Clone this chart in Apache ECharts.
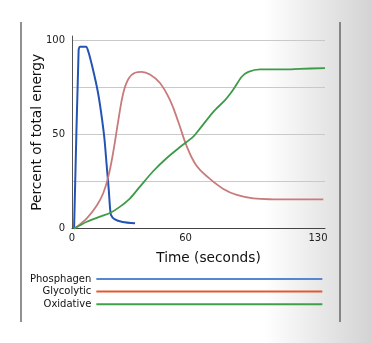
<!DOCTYPE html>
<html><head><meta charset="utf-8">
<script src="https://cdn.jsdelivr.net/npm/echarts@6/dist/echarts.min.js"></script>
<style>html,body{margin:0;padding:0;background:#fff;} #c{width:372px;height:343px;}</style>
</head><body><div id="c"></div>
<script>
const seriesNames = ['Phosphagen', 'Glycolytic', 'Oxidative'];
const xTickLabels = [0, 60, 130];
const yTickLabels = [0, 50, 100];
const yGridValues = [0, 25, 50, 75, 100];
// [seconds, percent]
const phosphagen = [[1.1,0],[3.5,94.8],[4.2,96.5],[7.4,96.5],[8.7,93.7],[10.9,85.2],[13.6,72.9],[15.3,62.2],[17.1,48.1],[18.3,33.9],[19.4,21.0],[20.1,11.0],[20.6,7.3],[22.4,5.1],[26.8,3.6],[33.3,2.9]];
const glycolytic = [[1.1,0],[7.8,5.5],[13.1,12.3],[16.5,18.8],[19.2,27.6],[21.8,40.7],[24.5,57.6],[27.1,72.0],[29.8,79.4],[33.3,82.7],[36.8,83.2],[41.2,81.8],[46.5,77.3],[51.8,68.2],[56.2,56.6],[60.6,43.8],[65.9,33.2],[72.9,26.4],[80.0,21.1],[87.1,17.9],[95.8,16.1],[106.4,15.6],[120.5,15.5],[132.8,15.6]];
const oxidative = [[1.1,0],[7.8,3.7],[14.8,6.4],[20.1,8.3],[25.4,11.7],[30.7,16.1],[35.9,22.3],[43.0,30.6],[50.1,37.5],[57.1,43.3],[64.1,48.8],[67.7,53.2],[74.7,62.0],[80.9,68.2],[83.5,71.4],[86.2,75.3],[89.7,80.6],[93.2,83.2],[99.4,84.5],[111.7,84.5],[120.5,84.8],[133.7,85.2]];
const lineColors = ['#2354b4', '#c97b7b', '#3f9a48'];
const legendColors = ['#5686d2', '#e05a30', '#40a04a'];

const chart = echarts.init(document.getElementById('c'), null, {renderer: 'canvas'});
const font = 'DejaVu Sans';
chart.setOption({
  animation: false,
  backgroundColor: new echarts.graphic.LinearGradient(0, 0, 1, 0, [
    {offset: 0, color: '#ffffff'}, {offset: 0.71, color: '#ffffff'}, {offset: 1, color: '#d3d3d3'}
  ]),
  textStyle: {fontFamily: font},
  grid: {left: 72, right: 47, top: 36, bottom: 114.3, containLabel: false},
  xAxis: {
    type: 'value', min: 0, max: 133.7,
    name: 'Time (seconds)', nameLocation: 'middle', nameGap: 23,
    nameTextStyle: {fontFamily: font, fontSize: 13.7, color: '#111', padding: [0, 0, 0, 20]},
    axisLine: {show: true, lineStyle: {color: '#444', width: 1}},
    axisTick: {show: false},
    axisLabel: {customValues: xTickLabels, fontFamily: font, fontSize: 10, color: '#222', margin: 5},
    splitLine: {show: false}
  },
  yAxis: {
    type: 'value', min: 0, max: 102.2,
    name: 'Percent of total energy', nameLocation: 'middle', nameGap: 28, nameMoveOverlap: false,
    nameTextStyle: {fontFamily: font, fontSize: 13.7, color: '#111'},
    axisLine: {show: true, lineStyle: {color: '#555', width: 1}},
    axisTick: {show: false, customValues: yGridValues},
    axisLabel: {customValues: yTickLabels, fontFamily: font, fontSize: 10, color: '#222', margin: 7},
    splitLine: {show: true, lineStyle: {color: '#c9c9c9', width: 1}}
  },
  legend: {
    orient: 'vertical', align: 'right', left: 30, top: 274, padding: 0,
    icon: 'rect', itemWidth: 226, itemHeight: 2, itemGap: 2.6,
    textStyle: {fontFamily: font, fontSize: 10, color: '#111', lineHeight: 10},
    data: seriesNames.map((n, i) => ({name: n, itemStyle: {color: legendColors[i]}}))
  },
  graphic: [
    {type: 'line', shape: {x1: 21, y1: 22, x2: 21, y2: 322}, style: {stroke: '#555', lineWidth: 1.3}},
    {type: 'line', shape: {x1: 340, y1: 22, x2: 340, y2: 322}, style: {stroke: '#555', lineWidth: 1.3}}
  ],
  series: [
    {name: seriesNames[0], type: 'line', data: phosphagen, smooth: 0.25, showSymbol: false,
     lineStyle: {color: lineColors[0], width: 2}, itemStyle: {color: legendColors[0]}},
    {name: seriesNames[1], type: 'line', data: glycolytic, smooth: 0.4, showSymbol: false,
     lineStyle: {color: lineColors[1], width: 1.8}, itemStyle: {color: legendColors[1]}},
    {name: seriesNames[2], type: 'line', data: oxidative, smooth: 0.3, showSymbol: false,
     lineStyle: {color: lineColors[2], width: 1.8}, itemStyle: {color: legendColors[2]}}
  ]
});
</script></body></html>
